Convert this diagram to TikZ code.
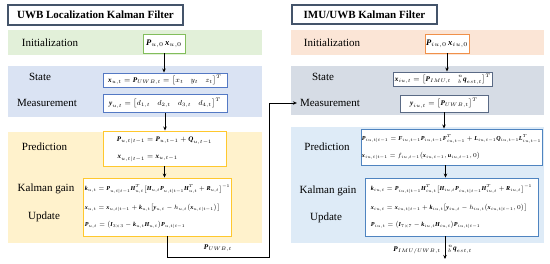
\RequirePackage{fix-cm}
\documentclass[tikz,border=0pt]{standalone}
\usepackage{amsmath}
\usepackage{fontspec}
\setmainfont{Liberation Serif}
\usetikzlibrary{arrows.meta,shadows}
\definecolor{gband}{HTML}{E2F0D9}
\definecolor{gline}{HTML}{82BD5C}
\definecolor{bband}{HTML}{DAE3F3}
\definecolor{bline}{HTML}{5479C4}
\definecolor{yband}{HTML}{FFF2CC}
\definecolor{yline}{HTML}{FFC82E}
\definecolor{oband}{HTML}{FBE5D6}
\definecolor{oline}{HTML}{F0904A}
\definecolor{sband}{HTML}{D6DCE5}
\definecolor{sline}{HTML}{5A6A85}
\definecolor{lband}{HTML}{DEEBF7}
\definecolor{lline}{HTML}{4F84C0}
\definecolor{tline}{HTML}{44546A}
\newcommand{\V}[1]{\text{\bfseries\itshape #1}}
\tikzset{
  title/.style={draw=tline,line width=1.3pt,fill=white,font=\fontsize{11}{13}\selectfont\bfseries,
    drop shadow={shadow xshift=1pt,shadow yshift=-1pt,fill=black!25},inner sep=0pt},
  lab/.style={font=\fontsize{11}{13}\selectfont,inner sep=0pt},
  fbox/.style={line width=0.9pt,fill=white,inner sep=1pt,font=\fontsize{7.2}{9}\selectfont},
  smallf/.style={font=\fontsize{6.1}{7.5}\selectfont},
  bigf/.style={font=\fontsize{8.5}{10}\selectfont},
  arr/.style={-{Stealth[length=4pt,width=3.5pt]},line width=0.7pt},
  clab/.style={font=\fontsize{7.2}{9}\selectfont,inner sep=0pt}
}
\begin{document}
\begin{tikzpicture}[x=1pt,y=-1pt]
\useasboundingbox (0,0) rectangle (550,263);
% bands
\fill[gband] (8,30) rectangle (262,55);
\fill[bband] (8,66) rectangle (262,117);
\fill[yband] (8,132) rectangle (262,243);
\fill[oband] (291,30) rectangle (544,55);
\fill[sband] (291,66) rectangle (544,115);
\fill[lband] (291,127) rectangle (544,243);
% titles
\node[title,minimum width=175pt,minimum height=20pt] (titleL) at (95.5,15) {UWB Localization Kalman Filter};
\node[title,minimum width=145pt,minimum height=19pt] (titleR) at (364.5,14.5) {IMU/UWB Kalman Filter};
% left labels
\node[lab] (initLabL) at (50,43) {Initialization};
\node[lab] (stateLabL) at (40,77) {State};
\node[lab] (measLabL) at (47,103) {Measurement};
\node[lab] (predLabL) at (44.5,147) {Prediction};
\node[lab] (kalLabL) at (46,189) {Kalman gain};
\node[lab] (updLabL) at (44,217) {Update};
% left boxes
\node[fbox,bigf,draw=gline,minimum width=42pt,minimum height=19pt] (initL) at (164,43.5)
  {$\V{P}_{u,0}\,\V{x}_{u,0}$};
\node[fbox,draw=bline,minimum width=124pt,minimum height=14pt] (stateL) at (165,80)
  {$\V{x}_{u,t}=\V{P}_{UWB,t}=\big[x_t\quad y_t\quad z_t\big]^T$};
\node[fbox,draw=bline,minimum width=124pt,minimum height=18pt] (measL) at (165,103.3)
  {$\V{y}_{u,t}=\big[d_{1,t}\quad d_{2,t}\quad d_{3,t}\quad d_{4,t}\big]^T$};
\node[fbox,draw=yline,minimum width=123pt,minimum height=35pt,font=\fontsize{7}{8.5}\selectfont] (predL) at (164.5,148.5)
  {$\begin{aligned}\V{P}_{u,t|t-1}&=\V{P}_{u,t-1}+\V{Q}_{u,t-1}\\[5pt] \V{x}_{u,t|t-1}&=\V{x}_{u,t-1}\end{aligned}$};
\node[fbox,smallf,draw=yline,minimum width=145pt,minimum height=58pt] (kalL) at (157.5,207)
  {$\begin{aligned}&\V{k}_{u,t}=\V{P}_{u,t|t-1}\V{H}_{u,t}^T\big[\V{H}_{u,t}\V{P}_{u,t|t-1}\V{H}_{u,t}^T+\V{R}_{u,t}\big]^{-1}\\[6pt]
  &\V{x}_{u,t}=\V{x}_{u,t|t-1}+\V{k}_{u,t}\big[\V{y}_{u,t}-h_{u,t}\big(\V{x}_{u,t|t-1}\big)\big]\\[6pt]
  &\V{P}_{u,t}=\big(\V{I}_{3\times3}-\V{k}_{u,t}\V{H}_{u,t}\big)\V{P}_{u,t|t-1}\end{aligned}$};
% right labels
\node[lab] (initLabR) at (332,43) {Initialization};
\node[lab] (stateLabR) at (323,77) {State};
\node[lab] (measLabR) at (330,103) {Measurement};
\node[lab] (predLabR) at (327,147) {Prediction};
\node[lab] (kalLabR) at (328,191) {Kalman gain};
\node[lab] (updLabR) at (326,218) {Update};
% right boxes
\node[fbox,bigf,draw=oline,minimum width=42pt,minimum height=19pt] (initR) at (447,43.5)
  {$\V{P}_{iu,0}\,\V{x}_{iu,0}$};
\node[fbox,draw=sline,minimum width=90pt,minimum height=14pt] (stateR) at (443,79)
  {$\V{x}_{iu,t}=\big[\V{P}_{IMU,t}\quad {}^{n}_{b}\V{q}_{est,t}\big]^T$};
\node[fbox,draw=sline,minimum width=88pt,minimum height=17pt] (measR) at (444,103.5)
  {$\V{y}_{iu,t}=\big[\V{P}_{UWB,t}\big]^T$};
\node[fbox,smallf,draw=lline,minimum width=173pt,minimum height=36pt] (predR) at (451.5,147)
  {$\begin{aligned}&\V{P}_{iu,t|t-1}=\V{F}_{iu,t-1}\V{P}_{iu,t-1}\V{F}_{iu,t-1}^T+\V{L}_{iu,t-1}\V{Q}_{iu,t-1}\V{L}_{iu,t-1}^T\\[5pt]
  &\V{x}_{iu,t|t-1}=f_{iu,t-1}\big(\V{x}_{iu,t-1},\V{u}_{iu,t-1},0\big)\end{aligned}$};
\node[fbox,smallf,draw=lline,minimum width=173pt,minimum height=58pt] (kalR) at (451.5,207)
  {$\begin{aligned}&\V{k}_{iu,t}=\V{P}_{iu,t|t-1}\V{H}_{iu,t}^T\big[\V{H}_{iu,t}\V{P}_{iu,t|t-1}\V{H}_{iu,t}^T+\V{R}_{iu,t}\big]^{-1}\\[6pt]
  &\V{x}_{iu,t}=\V{x}_{iu,t|t-1}+\V{k}_{iu,t}\big[\V{y}_{iu,t}-h_{iu,t}\big(\V{x}_{iu,t|t-1},0\big)\big]\\[6pt]
  &\V{P}_{iu,t}=\big(\V{I}_{7\times7}-\V{k}_{iu,t}\V{H}_{iu,t}\big)\V{P}_{iu,t|t-1}\end{aligned}$};
% left arrows
\draw[arr] (initL.south) -- (initL.south |- stateL.north);
\draw[arr] (measL.south) -- (measL.south |- predL.north);
\draw[arr] (predL.south) -- (predL.south |- kalL.north);
% feedback
\coordinate (fb1) at (167,257);
\coordinate (fb2) at (269,257);
\draw[arr] (kalL.south -| fb1) -- (fb1) -- (fb2) -- (fb2 |- measLabR.west) -- ([xshift=-3pt]measLabR.west);
\node[clab] (puwb) at (218,248) {$\V{P}_{UWB,t}$};
% right arrows
\draw[arr] (initR.south) -- (initR.south |- stateR.north);
\draw[arr] (measR.south) -- (measR.south |- predR.north);
\draw[arr] ([xshift=-6pt]predR.south) -- ([xshift=-6pt]predR.south |- kalR.north);
\coordinate (out) at (445,259);
\draw[arr] (kalR.south -| out) -- (out);
\node[clab,anchor=east] (pimu) at (441,250) {$\V{P}_{IMU/UWB,t}$};
\node[clab,anchor=west] (qest) at (448,249) {${}^{n}_{b}\V{q}_{est,t}$};
\end{tikzpicture}
\end{document}
